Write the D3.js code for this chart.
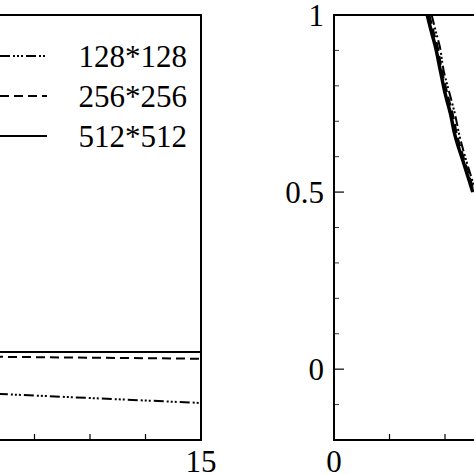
<!DOCTYPE html>
<html><head><meta charset="utf-8">
<script src="https://cdnjs.cloudflare.com/ajax/libs/d3/7.8.5/d3.min.js"></script>
<style>body{margin:0;background:#fff}svg{display:block}</style>
</head><body>
<svg id="chart" width="474" height="474"></svg>
<script>
// legend labels / series
const series = ["128*128", "256*256", "512*512"];
const dashes = ["10,3,2,2,2,2,2,3", "9,5", null];

// left panel: time vs value
const leftX = [0, 5, 10, 15];
const left128 = [-0.055, -0.068, -0.082, -0.096];
const left256 = [0.038, 0.035, 0.032, 0.029];
const left512 = [0.049, 0.048, 0.048, 0.048];
const leftTicks = [7.5, 10, 12.5];

// right panel: profile curves
const right512X = [0.84, 0.88, 0.91, 0.96, 1.0, 1.05, 1.09, 1.17, 1.25];
const right512Y = [1.0, 0.95, 0.915, 0.84, 0.78, 0.72, 0.66, 0.58, 0.5];
const right128X = [0.88, 0.92, 0.95, 0.99, 1.04, 1.09, 1.13, 1.2, 1.28];
const rightYTicks = [0, 0.5, 1];
const rightYMinor = [-0.1, 0.1, 0.2, 0.3, 0.4, 0.6, 0.7, 0.8, 0.9];
const rightXTicks = [0.5, 1];

const svg = d3.select("#chart");
const font = "Liberation Serif, Times New Roman, serif";
const fs = 31;

// ---------- left panel
const xL = d3.scaleLinear().domain([0, 15]).range([-132, 201]);
const yL = d3.scaleLinear().domain([0, 1]).range([369, 15]);
svg.append("rect").attr("x", -5).attr("y", 15).attr("width", 206).attr("height", 425)
  .attr("fill", "none").attr("stroke", "#000").attr("stroke-width", 2);
svg.append("g").selectAll("line").data(leftTicks).join("line")
  .attr("x1", d => xL(d)).attr("x2", d => xL(d)).attr("y1", 440).attr("y2", 434)
  .attr("stroke", "#000").attr("stroke-width", 1.2);
svg.append("text").attr("x", xL(15)).attr("y", 472).attr("text-anchor", "middle")
  .attr("font-family", font).attr("font-size", fs).text("15");

const leftLine = d3.line().x((d, i) => xL(leftX[i])).y(d => yL(d));
[left128, left256, left512].forEach((vals, k) => {
  svg.append("path").attr("d", leftLine(vals)).attr("fill", "none")
    .attr("stroke", "#000").attr("stroke-width", 2)
    .attr("stroke-dasharray", dashes[k]);
});

// legend
series.forEach((s, k) => {
  const y = 56 + k * 40;
  svg.append("line").attr("x1", 0).attr("x2", 47).attr("y1", y).attr("y2", y)
    .attr("stroke", "#000").attr("stroke-width", 2).attr("stroke-dasharray", dashes[k]);
  svg.append("text").attr("x", 187).attr("y", y + 11).attr("text-anchor", "end")
    .attr("font-family", font).attr("font-size", fs).text(s);
});

// ---------- right panel
const xR = d3.scaleLinear().domain([0, 1]).range([334, 445]);
const yR = d3.scaleLinear().domain([-0.2, 1]).range([440, 15]);
svg.append("rect").attr("x", 334).attr("y", 15).attr("width", 200).attr("height", 425)
  .attr("fill", "none").attr("stroke", "#000").attr("stroke-width", 2);
svg.append("g").selectAll("line").data(rightYTicks).join("line")
  .attr("x1", 334).attr("x2", 344).attr("y1", d => yR(d)).attr("y2", d => yR(d))
  .attr("stroke", "#000").attr("stroke-width", 1.2);
svg.append("g").selectAll("line").data(rightYMinor).join("line")
  .attr("x1", 334).attr("x2", 339).attr("y1", d => yR(d)).attr("y2", d => yR(d))
  .attr("stroke", "#000").attr("stroke-width", 0.8);
svg.append("g").selectAll("line").data(rightXTicks).join("line")
  .attr("x1", d => xR(d)).attr("x2", d => xR(d)).attr("y1", 440).attr("y2", 434)
  .attr("stroke", "#000").attr("stroke-width", 1.2);
svg.append("g").selectAll("text").data(rightYTicks).join("text")
  .attr("x", 324).attr("y", d => yR(d) + 11).attr("text-anchor", "end")
  .attr("font-family", font).attr("font-size", fs).text(d => d);
svg.append("text").attr("x", 334).attr("y", 472).attr("text-anchor", "middle")
  .attr("font-family", font).attr("font-size", fs).text("0");

svg.append("clipPath").attr("id", "rc").append("rect")
  .attr("x", 334).attr("y", 15).attr("width", 200).attr("height", 425);
const g = svg.append("g").attr("clip-path", "url(#rc)");
const curve = xs => d3.line().curve(d3.curveMonotoneY)
  .x((d, i) => xR(xs[i])).y(d => yR(d))(right512Y);
g.append("path").attr("d", curve(right128X)).attr("fill", "none").attr("stroke", "#000")
  .attr("stroke-width", 2).attr("stroke-dasharray", dashes[0]);
g.append("path").attr("d", curve(right128X.map((v, i) => (v + right512X[i]) / 2)))
  .attr("fill", "none").attr("stroke", "#000").attr("stroke-width", 2).attr("stroke-dasharray", dashes[1]);
g.append("path").attr("d", curve(right512X)).attr("fill", "none").attr("stroke", "#000")
  .attr("stroke-width", 3.5);
</script>
</body></html>
